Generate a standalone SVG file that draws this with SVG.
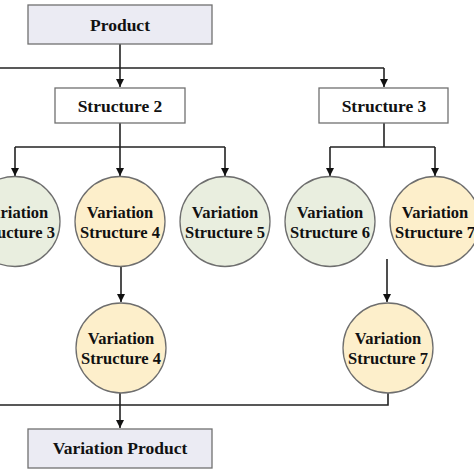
<svg xmlns="http://www.w3.org/2000/svg" width="474" height="474" viewBox="0 0 474 474">
<style>
.box{stroke:#707070;stroke-width:1.3}
.prod{fill:#ebebf3}
.str{fill:#ffffff}
.circ{stroke:#6e6e6e;stroke-width:1.3}
.y{fill:#fdefcb}
.g{fill:#e9eedf}
.t{font-weight:bold;font-size:16.5px;fill:#111;text-anchor:middle}
.tb{font-size:17.5px}
.ln{stroke:#222;stroke-width:1.6;fill:none}
</style>
<defs>
<marker id="ah" markerWidth="10" markerHeight="10" refX="8" refY="4" orient="auto" markerUnits="userSpaceOnUse">
<path d="M0,0 L8,4 L0,8 z" fill="#111"/>
</marker>
</defs>
<rect width="474" height="474" fill="#fff"/>
<g id="connectors">
<path class="ln" d="M120,44 V68"/>
<path class="ln" d="M0,68 H384"/>
<path class="ln" d="M120,68 V87" marker-end="url(#ah)"/>
<path class="ln" d="M384,68 V87" marker-end="url(#ah)"/>
<path class="ln" d="M120,123 V147"/>
<path class="ln" d="M15,147 H225"/>
<path class="ln" d="M15,147 V176" marker-end="url(#ah)"/>
<path class="ln" d="M120,147 V176" marker-end="url(#ah)"/>
<path class="ln" d="M225,147 V176" marker-end="url(#ah)"/>
<path class="ln" d="M384,123 V147"/>
<path class="ln" d="M330,147 H435"/>
<path class="ln" d="M330,147 V176" marker-end="url(#ah)"/>
<path class="ln" d="M435,147 V176" marker-end="url(#ah)"/>
<path class="ln" d="M121,267 V302" marker-end="url(#ah)"/>
<path class="ln" d="M387,259 V302" marker-end="url(#ah)"/>
<path class="ln" d="M0,405 H388 V393"/>
<path class="ln" d="M120,393 V428" marker-end="url(#ah)"/>
</g>
<g font-family="Liberation Serif, serif">
<g id="product">
<rect class="box prod" x="28" y="5" width="184" height="39"/>
<text class="t tb" x="120" y="31">Product</text>
</g>
<g id="structure2">
<rect class="box str" x="55" y="88" width="130" height="35"/>
<text class="t tb" x="120" y="112">Structure 2</text>
</g>
<g id="structure3">
<rect class="box str" x="319" y="88" width="129" height="35"/>
<text class="t tb" x="384" y="112">Structure 3</text>
</g>
<g id="vs3">
<circle class="circ g" cx="15" cy="221.5" r="45"/>
<text class="t" x="15" y="218">Variation</text>
<text class="t" x="15" y="238">Structure 3</text>
</g>
<g id="vs4">
<circle class="circ y" cx="120" cy="221.5" r="45"/>
<text class="t" x="120" y="218">Variation</text>
<text class="t" x="120" y="238">Structure 4</text>
</g>
<g id="vs5">
<circle class="circ g" cx="225" cy="221.5" r="45"/>
<text class="t" x="225" y="218">Variation</text>
<text class="t" x="225" y="238">Structure 5</text>
</g>
<g id="vs6">
<circle class="circ g" cx="330" cy="221.5" r="45"/>
<text class="t" x="330" y="218">Variation</text>
<text class="t" x="330" y="238">Structure 6</text>
</g>
<g id="vs7">
<circle class="circ y" cx="435" cy="221.5" r="45"/>
<text class="t" x="435" y="218">Variation</text>
<text class="t" x="435" y="238">Structure 7</text>
</g>
<g id="vs4b">
<circle class="circ y" cx="121" cy="348" r="45"/>
<text class="t" x="121" y="344">Variation</text>
<text class="t" x="121" y="364">Structure 4</text>
</g>
<g id="vs7b">
<circle class="circ y" cx="388" cy="348" r="45"/>
<text class="t" x="388" y="344">Variation</text>
<text class="t" x="388" y="364">Structure 7</text>
</g>
<g id="variationProduct">
<rect class="box prod" x="28" y="429" width="184" height="39"/>
<text class="t tb" x="120" y="454">Variation Product</text>
</g>
</g>
</svg>
